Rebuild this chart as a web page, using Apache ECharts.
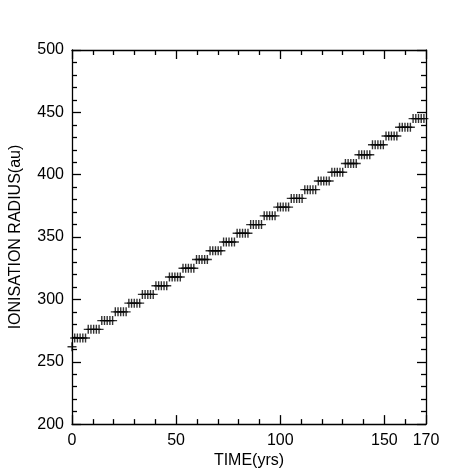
<!DOCTYPE html>
<html>
<head>
<meta charset="utf-8">
<script src="https://cdn.jsdelivr.net/npm/echarts@6/dist/echarts.min.js"></script>
<style>html,body{margin:0;padding:0;background:#fff}</style>
</head>
<body>
<div id="main" style="width:474px;height:474px"></div>
<script>
// radius levels (au), one per plateau, and number of points on each plateau
const radiusLevels = [262, 269, 276, 283, 290, 297, 304, 311, 318, 325, 332, 339, 346, 353,
  360, 367, 374, 381, 388, 395, 402, 409, 416, 424, 431, 438, 445];
const pointsPerLevel = [1, 5, 5, 5, 5, 5, 5, 5, 5, 5, 5, 5, 5, 5, 5, 5, 5, 5, 5, 5, 5, 5, 5, 5, 5, 5, 5];
const timeStep = 1.3; // yrs between samples
const xTicks = [0, 50, 100, 150];
const yTicks = [200, 250, 300, 350, 400, 450, 500];

let data = [];
let k = 0;
radiusLevels.forEach((r, i) => {
  for (let j = 0; j < pointsPerLevel[i]; j++) {
    data.push([k * timeStep, r]);
    k++;
  }
});

const font = 'Liberation Sans, Arial, sans-serif';
const lineStyle = { color: '#000', width: 1.3 };
function axisBase(show) {
  return {
    axisLine: { show: true, onZero: false, lineStyle },
    axisTick: { show: true, inside: true, length: 9, lineStyle },
    minorTick: { show: true, splitNumber: 5, length: 5, lineStyle },
    splitLine: { show: false },
    axisLabel: { show: show, color: '#000', fontSize: 16, fontFamily: font }
  };
}

const chart = echarts.init(document.getElementById('main'));
chart.setOption({
  animation: false,
  grid: { left: 72, right: 48, top: 50, bottom: 49 },
  xAxis: [
    Object.assign(axisBase(true), {
      type: 'value', min: 0, max: 170, interval: 50, position: 'bottom',
      name: 'TIME(yrs)', nameLocation: 'middle', nameGap: 25,
      nameTextStyle: { color: '#000', fontSize: 16, fontFamily: font }
    }),
    Object.assign(axisBase(false), {
      type: 'value', min: 0, max: 170, interval: 50, position: 'top'
    })
  ],
  yAxis: [
    Object.assign(axisBase(true), {
      type: 'value', min: 200, max: 500, interval: 50, position: 'left',
      name: 'IONISATION RADIUS(au)', nameLocation: 'middle', nameGap: 48,
      nameTextStyle: { color: '#000', fontSize: 16, fontFamily: font }
    }),
    Object.assign(axisBase(false), {
      type: 'value', min: 200, max: 500, interval: 50, position: 'right'
    })
  ],
  series: [{
    type: 'scatter',
    data: data,
    symbol: 'path://M5,0L5,10M0,5L10,5',
    symbolSize: 9,
    itemStyle: { color: 'none', borderColor: '#000', borderWidth: 1.4 }
  }]
});
</script>
</body>
</html>
